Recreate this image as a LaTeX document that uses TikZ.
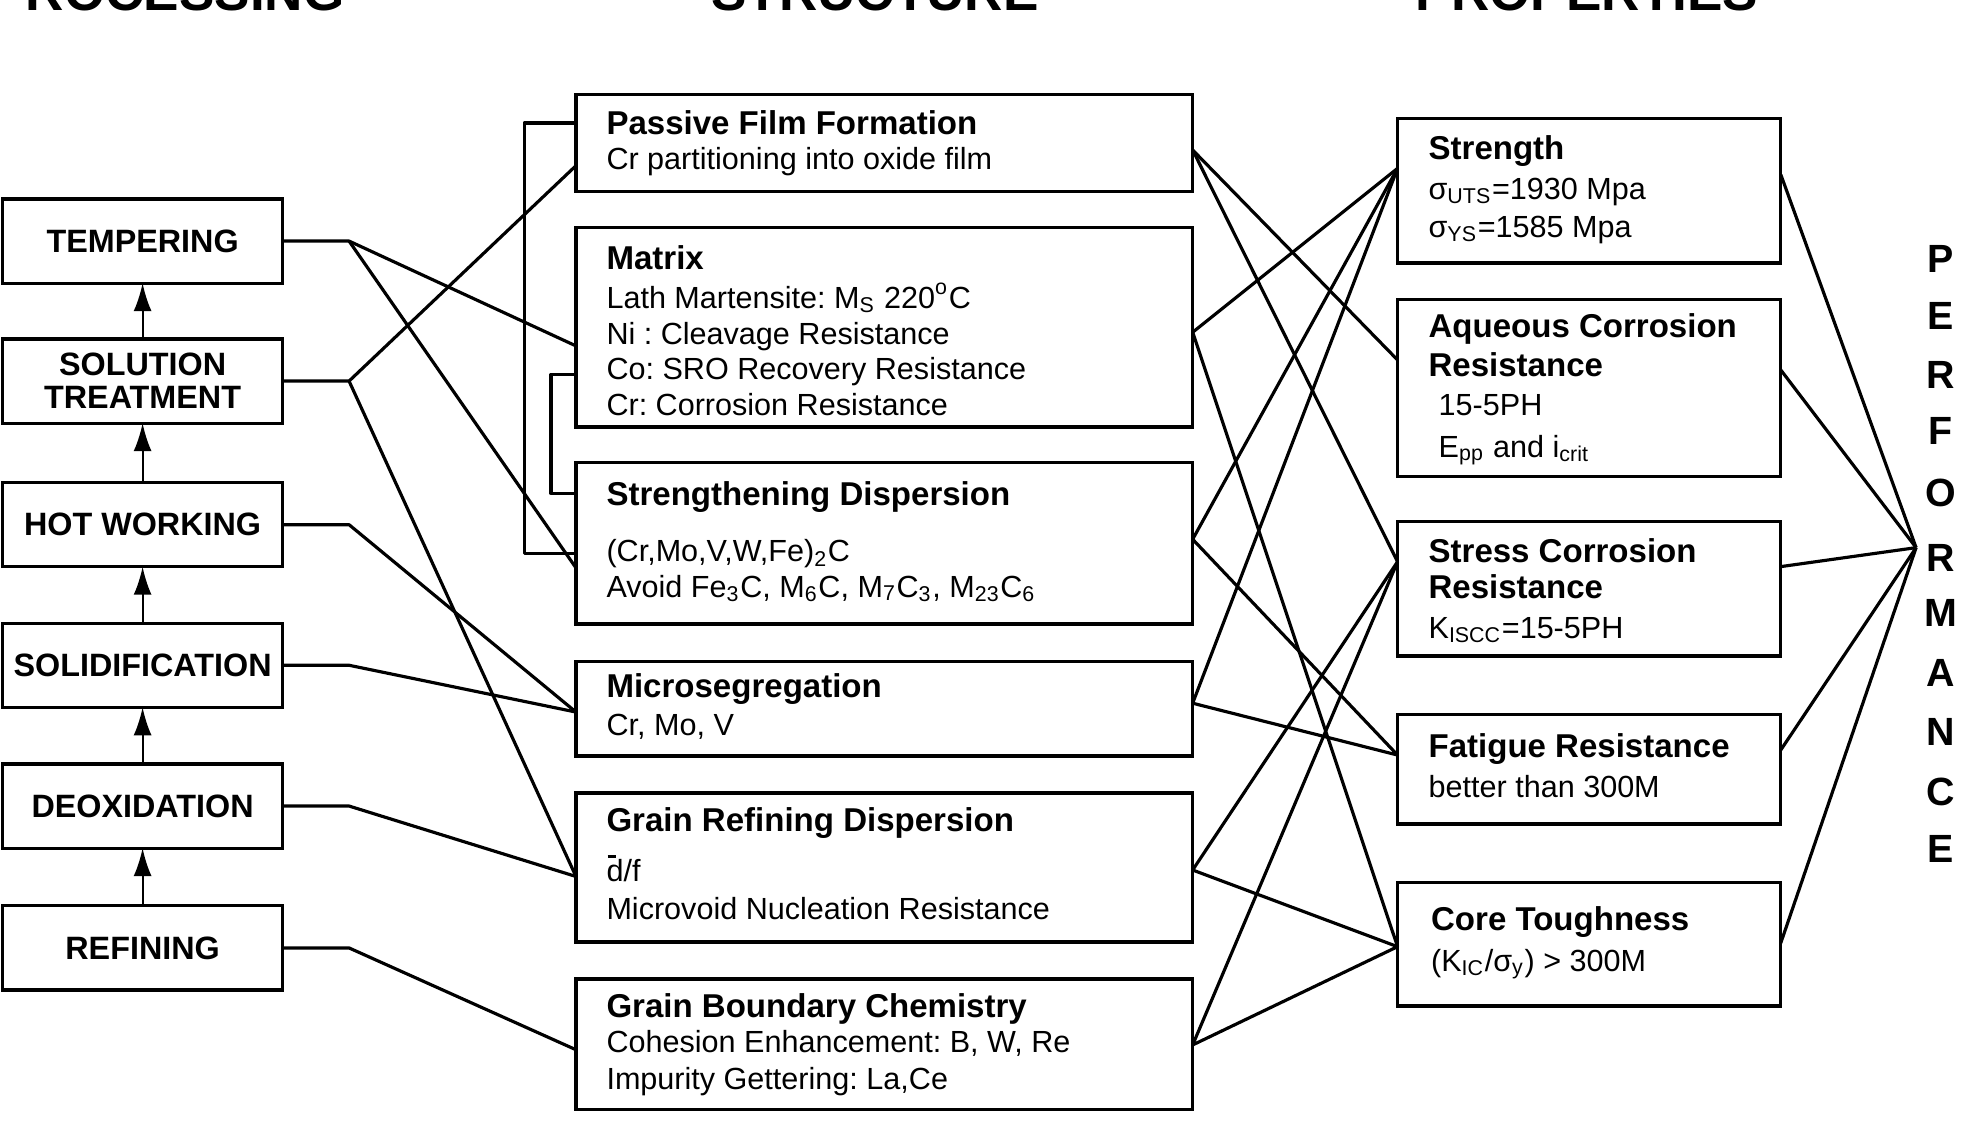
\documentclass[tikz,border=0pt]{standalone}
\usepackage{fontspec}
\setmainfont{Liberation Sans}
\usetikzlibrary{arrows.meta}
\frenchspacing
\newcommand{\dpx}{0.1265mm}
\newcommand{\dbar}{\leavevmode\rlap{\kern0.04em\raisebox{0.8em}{\rule{0.28em}{0.07em}}}d}
\tikzstyle{ProcNode}=[draw,line width=0.9pt,inner sep=0pt,outer sep=0pt,
minimum width=221.5*\dpx,minimum height=66.5*\dpx,align=center,
font=\fontsize{9.2pt}{9.4pt}\selectfont\bfseries]
\tikzstyle{BoxNode}=[draw,line width=0.9pt,inner sep=0pt,outer sep=0pt]
\tikzstyle{HeadST}=[anchor=mid west,inner sep=0pt,font=\fontsize{9.4pt}{11pt}\selectfont\bfseries]
\tikzstyle{LineST}=[anchor=mid west,inner sep=0pt,font=\fontsize{8.7pt}{10pt}\selectfont]
\tikzstyle{ColumnST}=[anchor=base west,inner sep=0pt,font=\fontsize{15.1pt}{16pt}\selectfont\bfseries]
\tikzstyle{LetterST}=[inner sep=0pt,font=\fontsize{11.2pt}{12pt}\selectfont\bfseries]
\tikzstyle{Edge}=[draw,line width=0.9pt,line join=round]
\tikzstyle{UpArrow}=[draw,line width=0.6pt,-{Latex[length=2.8mm,width=1.8mm]}]

\begin{document}
\begin{tikzpicture}[x=0.1265mm,y=-0.1265mm]
        \useasboundingbox(0,0)rectangle(1560,892);
        \node[ColumnST](proc)at(20,8.5){ROCESSING};
        \node[ColumnST](struc)at(562,8.5){STRUCTURE};
        \node[ColumnST](prop)at(1119,8.5){PROPERTIES};
        \node[ProcNode](temp)at(112.75,190.6){TEMPERING};
        \node[ProcNode](sol)at(112.75,301.3){SOLUTION\\TREATMENT};
        \node[ProcNode](hot)at(112.75,414.85){HOT WORKING};
        \node[ProcNode](solid)at(112.75,526){SOLIDIFICATION};
        \node[ProcNode](deox)at(112.75,637.3){DEOXIDATION};
        \node[ProcNode](ref)at(112.75,749.5){REFINING};
        \node[BoxNode,minimum width=487.6*\dpx,minimum height=77*\dpx](pass)at(699.2,113.1){};
        \node[BoxNode,minimum width=487.6*\dpx,minimum height=157.6*\dpx](matr)at(699.2,258.8){};
        \node[BoxNode,minimum width=487.6*\dpx,minimum height=127.4*\dpx](strd)at(699.2,429.7){};
        \node[BoxNode,minimum width=487.6*\dpx,minimum height=74.7*\dpx](mseg)at(699.2,560.35){};
        \node[BoxNode,minimum width=487.6*\dpx,minimum height=117.8*\dpx](gref)at(699.2,685.9){};
        \node[BoxNode,minimum width=487.6*\dpx,minimum height=103*\dpx](gbch)at(699.2,825.5){};
        \node[HeadST](pass-h)at(479,98.8){Passive Film Formation};
        \node[LineST](pass-1)at(479,127){Cr partitioning into oxide film};
        \node[HeadST](matr-h)at(479,205.5){Matrix};
        \node[LineST](matr-1)at(479,236.5){Lath Martensite: M\textsubscript{S} 220\textsuperscript{o}C};
        \node[LineST](matr-2)at(479,264.7){Ni : Cleavage Resistance};
        \node[LineST](matr-3)at(479,292.8){Co: SRO Recovery Resistance};
        \node[LineST](matr-4)at(479,321){Cr: Corrosion Resistance};
        \node[HeadST](strd-h)at(479,392){Strengthening Dispersion};
        \node[LineST](strd-1)at(479,437){(Cr,Mo,V,W,Fe)\textsubscript{2}C};
        \node[LineST](strd-2)at(479,464.7){Avoid Fe\textsubscript{3}C, M\textsubscript{6}C, M\textsubscript{7}C\textsubscript{3}, M\textsubscript{23}C\textsubscript{6}};
        \node[HeadST](mseg-h)at(479,544.2){Microsegregation};
        \node[LineST](mseg-1)at(479,574.5){Cr, Mo, V};
        \node[HeadST](gref-h)at(479,649.7){Grain Refining Dispersion};
        \node[LineST](gref-1)at(479,690){\dbar/f};
        \node[LineST](gref-2)at(479,719.5){Microvoid Nucleation Resistance};
        \node[HeadST](gbch-h)at(479,797){Grain Boundary Chemistry};
        \node[LineST](gbch-1)at(479,824.7){Cohesion Enhancement: B, W, Re};
        \node[LineST](gbch-2)at(479,853.9){Impurity Gettering: La,Ce};
        \node[BoxNode,minimum width=303*\dpx,minimum height=114.5*\dpx](str)at(1256.5,150.75){};
        \node[BoxNode,minimum width=303*\dpx,minimum height=140*\dpx](aqc)at(1256.5,307){};
        \node[BoxNode,minimum width=303*\dpx,minimum height=106.7*\dpx](scc)at(1256.5,465.35){};
        \node[BoxNode,minimum width=303*\dpx,minimum height=86.5*\dpx](fat)at(1256.5,608.25){};
        \node[BoxNode,minimum width=303*\dpx,minimum height=97.4*\dpx](core)at(1256.5,746.7){};
        \node[HeadST](str-h)at(1129,118.6){Strength};
        \node[LineST](str-1)at(1129,150.2){σ\textsubscript{UTS}=1930 Mpa};
        \node[LineST](str-2)at(1129,180.3){σ\textsubscript{YS}=1585 Mpa};
        \node[HeadST](aqc-h)at(1129,259.5){Aqueous Corrosion};
        \node[HeadST](aqc-h2)at(1129,290){Resistance};
        \node[LineST](aqc-1)at(1137,321.5){15-5PH};
        \node[LineST](aqc-2)at(1137,354){E\textsubscript{pp} and i\textsubscript{crit}};
        \node[HeadST](scc-h)at(1129,437.5){Stress Corrosion};
        \node[HeadST](scc-h2)at(1129,466){Resistance};
        \node[LineST](scc-1)at(1129,497.6){K\textsubscript{ISCC}=15-5PH};
        \node[HeadST](fat-h)at(1129,591.5){Fatigue Resistance};
        \node[LineST](fat-1)at(1129,623){better than 300M};
        \node[HeadST](core-h)at(1131,728.7){Core Toughness};
        \node[LineST](core-1)at(1131,760.4){(K\textsubscript{IC}/σ\textsubscript{y}) > 300M};
        \node[LetterST](perf1)at(1534.6,204.8){P};
        \node[LetterST](perf2)at(1534.6,249.6){E};
        \node[LetterST](perf3)at(1534.6,296.5){R};
        \node[LetterST](perf4)at(1534.6,340.6){F};
        \node[LetterST](perf5)at(1534.6,390){O};
        \node[LetterST](perf6)at(1534.6,440.8){R};
        \node[LetterST](perf7)at(1534.6,485){M};
        \node[LetterST](perf8)at(1534.6,531.7){A};
        \node[LetterST](perf9)at(1534.6,578.5){N};
        \node[LetterST](perf10)at(1534.6,626){C};
        \node[LetterST](perf11)at(1534.6,671.3){E};
        \coordinate(temp-o)at(276,190.6);
        \coordinate(sol-o)at(276,301.3);
        \coordinate(hot-o)at(276,414.85);
        \coordinate(solid-o)at(276,526);
        \coordinate(deox-o)at(276,637.3);
        \coordinate(ref-o)at(276,749.5);
        \coordinate(pass-w)at(455.4,131);
        \coordinate(pass-k)at(455.4,97.2);
        \coordinate(matr-w)at(455.4,273.5);
        \coordinate(matr-k)at(455.4,296);
        \coordinate(strd-j)at(455.4,390);
        \coordinate(strd-k)at(455.4,437.5);
        \coordinate(strd-w)at(455.4,449);
        \coordinate(mseg-w)at(455.4,563);
        \coordinate(gref-w)at(455.4,693);
        \coordinate(gbch-w)at(455.4,830);
        \coordinate(pass-e)at(943,118.6);
        \coordinate(matr-e)at(943,262.7);
        \coordinate(strd-e)at(943,426.4);
        \coordinate(mseg-e)at(943,556);
        \coordinate(gref-e)at(943,687.9);
        \coordinate(gbch-e)at(943,826.2);
        \coordinate(str-w)at(1105,133.1);
        \coordinate(aqc-w)at(1105,284.6);
        \coordinate(scc-w)at(1105,444.1);
        \coordinate(fat-w)at(1105,597);
        \coordinate(core-w)at(1105,748.5);
        \coordinate(str-e)at(1408,138);
        \coordinate(aqc-e)at(1408,292.5);
        \coordinate(scc-e)at(1408,448);
        \coordinate(fat-e)at(1408,593);
        \coordinate(core-e)at(1408,745.6);
        \coordinate(hub)at(1515,433);
        \draw[UpArrow](ref.north)--(deox.south);
        \draw[UpArrow](deox.north)--(solid.south);
        \draw[UpArrow](solid.north)--(hot.south);
        \draw[UpArrow](hot.north)--(sol.south);
        \draw[UpArrow](sol.north)--(temp.south);
        \draw[Edge](temp.east)--(temp-o)--(matr-w);
        \draw[Edge](temp-o)--(strd-w);
        \draw[Edge](sol.east)--(sol-o)--(pass-w);
        \draw[Edge](sol-o)--(gref-w);
        \draw[Edge](hot.east)--(hot-o)--(mseg-w);
        \draw[Edge](solid.east)--(solid-o)--(mseg-w);
        \draw[Edge](deox.east)--(deox-o)--(gref-w);
        \draw[Edge](ref.east)--(ref-o)--(gbch-w);
        \draw[Edge](pass-k)--++(-41,0)|-(strd-k);
        \draw[Edge](matr-k)--++(-19.8,0)|-(strd-j);
        \draw[Edge](pass-e)--(aqc-w);
        \draw[Edge](pass-e)--(scc-w);
        \draw[Edge](matr-e)--(str-w);
        \draw[Edge](matr-e)--(core-w);
        \draw[Edge](strd-e)--(str-w);
        \draw[Edge](strd-e)--(fat-w);
        \draw[Edge](mseg-e)--(str-w);
        \draw[Edge](mseg-e)--(fat-w);
        \draw[Edge](gref-e)--(scc-w);
        \draw[Edge](gref-e)--(core-w);
        \draw[Edge](gbch-e)--(scc-w);
        \draw[Edge](gbch-e)--(core-w);
        \draw[Edge](str-e)--(hub);
        \draw[Edge](aqc-e)--(hub);
        \draw[Edge](scc-e)--(hub);
        \draw[Edge](fat-e)--(hub);
        \draw[Edge](core-e)--(hub);
    \end{tikzpicture}
\end{document}
